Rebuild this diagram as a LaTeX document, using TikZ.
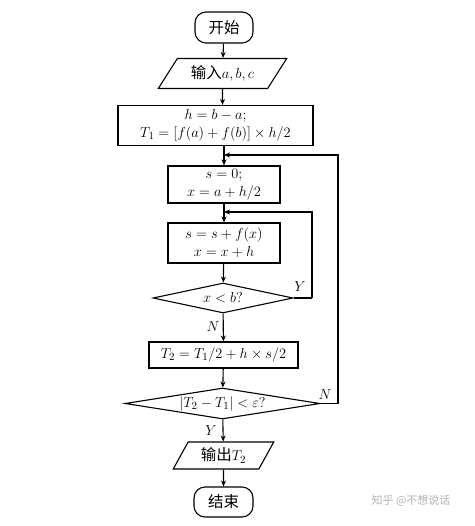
\documentclass[tikz,border=0pt]{standalone}
\usepackage{fontspec}
\newfontfamily\cjk{Noto Sans CJK SC}
\usetikzlibrary{shapes.geometric,arrows.meta}
\begin{document}
\begin{tikzpicture}[x=1pt,y=-1pt,
  every node/.style={font=\fontsize{15.5}{18}\selectfont, inner sep=0pt},
  term/.style={draw, rounded corners=11pt, minimum width=58pt, minimum height=31pt, line width=1.1pt},
  proc/.style={draw, rectangle, line width=1.1pt, align=center},
  io/.style={draw, trapezium, trapezium stretches=true, line width=1.1pt},
  dec/.style={draw, diamond, line width=1.1pt},
  flow/.style={line width=1.1pt, -{Stealth[length=6pt,width=5pt]}},
  line/.style={line width=1.1pt},
  lab/.style={font=\fontsize{14}{16}\selectfont}
]
\useasboundingbox (0,0) rectangle (474,526);
\node[term] (start) at (224,27.5) {\cjk 开始};
\node[io, trapezium left angle=50, trapezium right angle=130, minimum width=129pt, minimum height=30pt] (in) at (222.5,73.5) {{\cjk 输入}$a,b,c$};
\node[proc, minimum width=195pt, minimum height=40pt] (b1) at (215.5,125.5) {$h=b-a;$\\$T_1=[f(a)+f(b)]\times h/2$};
\node[proc, minimum width=112pt, minimum height=37pt] (b2) at (224,184.5) {$s=0;$\\$x=a+h/2$};
\node[proc, minimum width=112pt, minimum height=40pt] (b3) at (224,243) {$s=s+f(x)$\\$x=x+h$};
\node[dec, aspect=4.67, minimum width=140pt, minimum height=30pt] (d1) at (223,298) {$x<b?$};
\node[proc, minimum width=149pt, minimum height=26pt] (b4) at (223.5,355) {$T_2=T_1/2+h\times s/2$};
\node[dec, aspect=6.3, minimum width=195pt, minimum height=31pt] (d2) at (222.5,403.5) {$|T_2-T_1|<\varepsilon?$};
\node[io, trapezium left angle=58, trapezium right angle=122, minimum width=101pt, minimum height=27pt] (out) at (223.5,455.5) {{\cjk 输出}$T_2$};
\node[term, minimum width=59pt, minimum height=30pt] (end) at (223.5,502) {\cjk 结束};
\coordinate (m1) at (224,155);
\coordinate (m2) at (224,212);
\coordinate (r1) at (338,403.5);
\coordinate (r2) at (312,298);

\draw[flow] (start) -- (in);
\draw[flow] (in) -- (b1.north -| in.south);
\draw[flow] (b1.south -| b2.north) -- (b2);
\draw[flow] (b2) -- (b3);
\draw[flow] (b3) -- (d1);
\draw[flow] (d1) -- (b4);
\draw[flow] (b4) -- (d2);
\draw[flow] (d2) -- (out);
\draw[flow] (out) -- (end);
\draw[line] (d1.east) -- (r2);
\draw[flow] (r2) |- (m2);
\draw[line] (d2.east) -- (r1);
\draw[flow] (r1) |- (m1);
\node[lab] (ly1) at (300,287) {$Y$};
\node[lab] (ln1) at (213,327) {$N$};
\node[lab] (ln2) at (325,395) {$N$};
\node[lab] (ly2) at (211,431) {$Y$};
\node[font=\fontsize{11}{13}\selectfont, text=black!30] (wm) at (411,501) {\cjk 知乎 @不想说话};
\end{tikzpicture}
\end{document}
